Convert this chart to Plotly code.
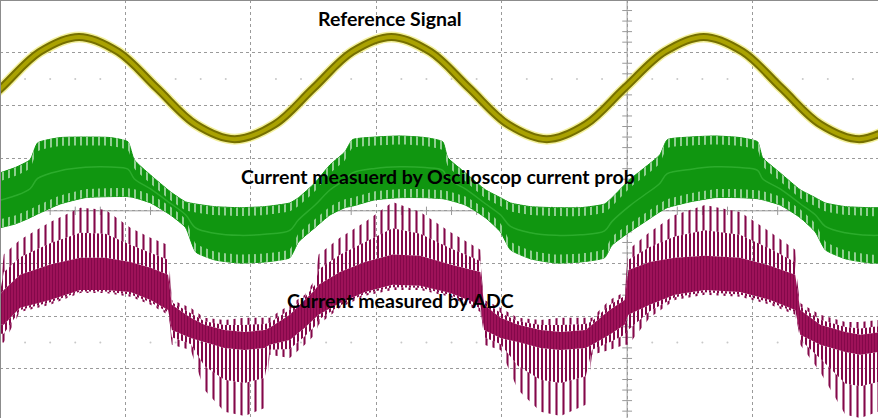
import numpy as np
import plotly.graph_objects as go

# ---------------- data (screen divisions) ----------------
# Reference signal (yellow trace)
ref_t = [-0.30, 0.01, 0.32, 0.63, 0.94, 1.25, 1.56, 1.87, 2.19, 2.50, 2.81, 3.12, 3.43,
         3.74, 4.05, 4.36, 4.67, 4.98, 5.30, 5.61, 5.92, 6.23, 6.54, 6.85, 7.16]
ref_v = [1.64, 2.33, 3.02, 3.30, 3.02, 2.33, 1.64, 1.36, 1.64, 2.33, 3.02, 3.30, 3.02,
         2.33, 1.64, 1.36, 1.64, 2.33, 3.02, 3.30, 3.02, 2.33, 1.64, 1.36, 1.64]

# Current from oscilloscope probe (green band: upper / lower envelope)
probe_t = [0.00, 0.12, 0.24, 0.30, 0.48, 0.68, 0.88, 1.02, 1.07, 1.20, 1.36, 1.48, 1.56,
           1.71, 1.91, 2.11, 2.31, 2.38, 2.51, 2.63, 2.75, 2.81, 2.99, 3.19, 3.39, 3.53,
           3.57, 3.71, 3.87, 3.99, 4.07, 4.23, 4.43, 4.63, 4.82, 4.88, 5.02, 5.14, 5.26,
           5.32, 5.50, 5.70, 5.90, 6.04, 6.08, 6.22, 6.38, 6.50, 6.58, 6.74, 6.94, 7.00]
probe_hi = [0.72, 0.82, 0.97, 1.29, 1.39, 1.40, 1.39, 1.31, 0.97, 0.68, 0.36, 0.17, 0.13,
            0.08, 0.06, 0.08, 0.15, 0.25, 0.53, 0.87, 1.12, 1.35, 1.40, 1.42, 1.39, 1.31,
            1.01, 0.72, 0.40, 0.25, 0.15, 0.08, 0.06, 0.06, 0.13, 0.25, 0.59, 0.82, 1.06,
            1.35, 1.40, 1.42, 1.39, 1.31, 1.01, 0.72, 0.40, 0.25, 0.15, 0.08, 0.06, 0.06]
probe_lo = [-0.32, -0.25, -0.13, -0.06, 0.13, 0.25, 0.27, 0.27, 0.25, 0.15, -0.08, -0.32, -0.78,
            -0.93, -0.99, -0.97, -0.89, -0.59, -0.32, -0.08, 0.06, 0.09, 0.21, 0.25, 0.25, 0.23,
            0.21, 0.11, -0.13, -0.40, -0.74, -0.91, -0.99, -0.97, -0.89, -0.65, -0.40, -0.21, -0.02,
            0.06, 0.17, 0.25, 0.25, 0.23, 0.21, 0.11, -0.13, -0.40, -0.74, -0.91, -0.99, -0.99]

# Current measured by ADC (magenta: spike envelope and dense core)
adc_t = [0.00, 0.03, 0.16, 0.40, 0.64, 0.84, 1.04, 1.20, 1.34, 1.37, 1.52, 1.63, 1.79, 1.95,
         2.11, 2.15, 2.31, 2.43, 2.51, 2.54, 2.71, 2.91, 3.13, 3.35, 3.59, 3.83, 3.86, 3.99,
         4.13, 4.31, 4.47, 4.67, 4.72, 4.86, 4.98, 5.01, 5.18, 5.38, 5.62, 5.90, 6.14, 6.34,
         6.38, 6.54, 6.74, 6.86, 7.00]
adc_spike_hi = [-1.50, -0.83, -0.55, -0.21, 0.06, 0.02, -0.32, -0.51, -0.65, -1.69, -1.84, -2.03,
                -2.07, -2.03, -2.03, -2.03, -1.78, -1.59, -1.31, -0.83, -0.51, -0.21, 0.17, -0.02,
                -0.40, -0.74, -1.69, -1.84, -2.03, -2.07, -2.03, -2.03, -2.03, -1.69, -1.54, -0.74,
                -0.40, -0.08, 0.11, -0.02, -0.40, -0.74, -1.75, -1.97, -2.11, -2.11, -2.07]
adc_core_hi = [-1.59, -1.50, -1.21, -1.02, -0.89, -0.89, -0.97, -1.08, -1.21, -1.78, -2.03, -2.16,
               -2.26, -2.30, -2.26, -2.22, -1.97, -1.69, -1.50, -1.40, -1.16, -0.97, -0.83, -0.85,
               -1.02, -1.16, -1.78, -2.03, -2.16, -2.26, -2.30, -2.26, -2.16, -1.88, -1.69, -1.12,
               -0.97, -0.89, -0.85, -0.89, -1.04, -1.21, -1.88, -2.16, -2.30, -2.35, -2.31]
adc_core_lo = [-2.16, -2.16, -1.84, -1.69, -1.50, -1.50, -1.54, -1.69, -1.88, -2.26, -2.41, -2.49,
               -2.60, -2.64, -2.60, -2.54, -2.45, -2.22, -2.03, -1.97, -1.75, -1.54, -1.40, -1.42,
               -1.56, -1.78, -2.26, -2.41, -2.49, -2.60, -2.64, -2.60, -2.54, -2.35, -2.16, -1.97,
               -1.78, -1.59, -1.50, -1.54, -1.69, -1.88, -2.35, -2.54, -2.68, -2.73, -2.68]
adc_spike_lo = [-2.50, -2.50, -1.92, -1.78, -1.56, -1.56, -1.63, -1.78, -1.97, -2.54, -2.64, -3.40,
                -3.81, -3.89, -3.74, -2.73, -2.79, -2.54, -2.35, -2.16, -1.84, -1.61, -1.50, -1.50,
                -1.63, -1.92, -2.54, -2.64, -3.40, -3.81, -3.89, -3.68, -2.73, -2.64, -2.54, -2.54,
                -2.03, -1.69, -1.59, -1.63, -1.78, -1.97, -2.54, -3.06, -3.87, -3.93, -3.81]

labels = ["Reference Signal",
          "Current measuerd by Osciloscop current prob",
          "Current measured by ADC"]

# ---------------- figure ----------------
fig = go.Figure()
GRID = "#9a9a9a"
GREEN = "#109610"
MAG = "#84084a"


def hidden(x, y, **kw):
    return go.Scatter(x=x, y=y, mode="lines", line=dict(color="rgba(0,0,0,0)", width=0),
                      hoverinfo="skip", showlegend=False, **kw)


def comb(x, y0, y1, size, solidity, fg, bg="rgba(0,0,0,0)", shape="linear", name=None):
    """Band between y0 and y1 filled with vertical strokes."""
    return [hidden(x, y0, line_shape=shape),
            go.Scatter(x=x, y=y1, mode="lines", fill="tonexty", fillcolor="rgba(0,0,0,0)",
                       fillpattern=dict(shape="|", size=size, solidity=solidity,
                                        fgcolor=fg, fgopacity=1, bgcolor=bg),
                       line=dict(color="rgba(0,0,0,0)", width=0, shape=shape, smoothing=0.5),
                       hoverinfo="skip", showlegend=False, name=name)]


# graticule: centre cross ticks and dotted rows
minor = [v for v in np.round(np.arange(0, 7.01, 0.2), 2) if abs(v - round(v)) > 1e-6]
fig.add_trace(go.Scatter(x=minor, y=[0] * len(minor), mode="markers",
                         marker=dict(symbol="line-ns", size=6, line=dict(color=GRID, width=1)),
                         hoverinfo="skip", showlegend=False))
vminor = [v for v in np.round(np.arange(-3.8, 4.0, 0.2), 2) if abs(v - round(v)) > 1e-6]
fig.add_trace(go.Scatter(x=[5] * len(vminor), y=vminor, mode="markers",
                         marker=dict(symbol="line-ew", size=7, line=dict(color=GRID, width=1)),
                         hoverinfo="skip", showlegend=False))
fig.add_trace(go.Scatter(x=minor + minor, y=[2.5] * len(minor) + [-2.5] * len(minor), mode="markers",
                         marker=dict(size=2, color="#c8c8c8"),
                         hoverinfo="skip", showlegend=False))

# yellow reference
for col, w in [("rgba(235,230,90,0.6)", 11), ("#767000", 8)]:
    fig.add_trace(go.Scatter(x=ref_t, y=ref_v, mode="lines",
                             line=dict(color=col, width=w, shape="spline", smoothing=1.0),
                             hoverinfo="skip", showlegend=False))
fig.add_trace(go.Scatter(x=ref_t, y=ref_v, mode="lines", name=labels[0],
                         line=dict(color="#aaa200", width=4, shape="spline", smoothing=1.0),
                         showlegend=False))

# green probe current band
fig.add_trace(go.Scatter(x=probe_t, y=probe_hi, mode="lines",
                         line=dict(color=GREEN, width=1, shape="spline", smoothing=0.5),
                         hoverinfo="skip", showlegend=False))
fig.add_trace(go.Scatter(x=probe_t, y=probe_lo, mode="lines", fill="tonexty",
                         fillcolor=GREEN, name=labels[1],
                         line=dict(color=GREEN, width=1, shape="spline", smoothing=0.5),
                         showlegend=False))
probe_mid = [(a + b) / 2 for a, b in zip(probe_hi, probe_lo)]
fig.add_trace(go.Scatter(x=probe_t, y=probe_mid, mode="lines",
                         line=dict(color="rgba(80,200,80,0.45)", width=1.5, shape="spline", smoothing=1.0),
                         hoverinfo="skip", showlegend=False))
# comb fringe on the band edges (white gaps between the sampled vertical strokes)
for edge, sign in [(probe_hi, -1), (probe_lo, 1)]:
    inner = [v + sign * 0.16 for v in edge]
    fig.add_traces(comb(probe_t, edge, inner, 6, 0.18, "white", shape="spline"))

# magenta ADC current: sparse spike tips, denser spikes near the core, dense core
mid_hi = [(a + b) / 2 for a, b in zip(adc_spike_hi, adc_core_hi)]
mid_lo = [(a + b) / 2 for a, b in zip(adc_spike_lo, adc_core_lo)]
fig.add_traces(comb(adc_t, adc_spike_hi, mid_hi, 7, 0.3, MAG))
fig.add_traces(comb(adc_t, mid_hi, adc_core_hi, 4, 0.5, MAG))
fig.add_traces(comb(adc_t, adc_core_lo, mid_lo, 4, 0.5, MAG))
fig.add_traces(comb(adc_t, mid_lo, adc_spike_lo, 7, 0.3, MAG))
fig.add_traces(comb(adc_t, adc_core_hi, adc_core_lo, 3, 0.6, MAG, bg="#b01862", name=labels[2]))

# centre cross and borders
fig.add_shape(type="line", x0=0, x1=7, y0=0, y1=0, line=dict(color=GRID, width=1), layer="below")
fig.add_shape(type="line", x0=5, x1=5, y0=-3.93, y1=4.0, line=dict(color=GRID, width=1), layer="below")
fig.add_shape(type="line", xref="paper", yref="paper", x0=0, x1=1, y0=1, y1=1,
              line=dict(color="#8c8c8c", width=2))
fig.add_shape(type="line", xref="paper", yref="paper", x0=0, x1=0, y0=0, y1=1,
              line=dict(color="#8c8c8c", width=2))

# labels
for txt, xc, yc in [(labels[0], 3.11, 3.64), (labels[1], 3.49, 0.66), (labels[2], 3.19, -1.71)]:
    fig.add_annotation(x=xc, y=yc, text=txt, showarrow=False, xanchor="center", yanchor="middle",
                       font=dict(family="Lato", size=19.5, color="black", weight="bold"))

fig.update_layout(
    width=878, height=418, margin=dict(l=0, r=0, t=0, b=0),
    paper_bgcolor="white", plot_bgcolor="white", showlegend=False,
    xaxis=dict(range=[0, 7], tick0=0, dtick=1, showgrid=True, gridcolor=GRID, griddash="dot",
               gridwidth=1, zeroline=False, showticklabels=False, ticks="", fixedrange=True),
    yaxis=dict(range=[-3.93, 4.0], tick0=0, dtick=1, showgrid=True, gridcolor=GRID, griddash="dot",
               gridwidth=1, zeroline=False, showticklabels=False, ticks="", fixedrange=True),
)

fig.write_html("out.html", config={"displayModeBar": False},
               post_script="document.body.style.margin='0px';document.body.style.overflow='hidden';")
